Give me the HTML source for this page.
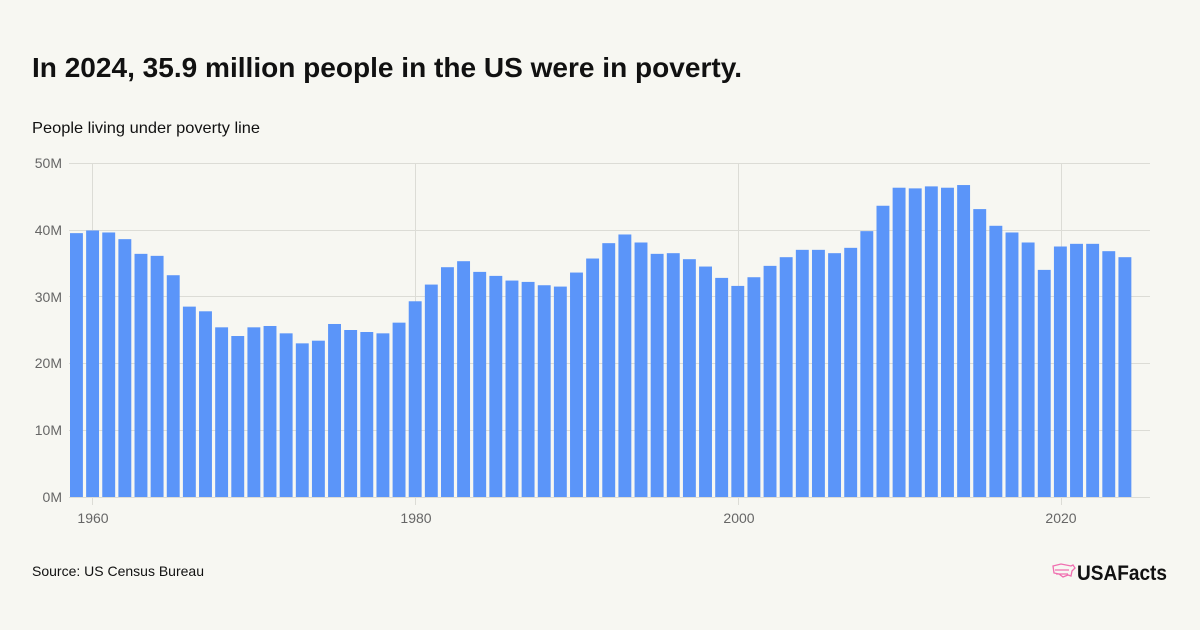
<!DOCTYPE html>
<html><head><meta charset="utf-8"><style>
body{margin:0;background:#f7f7f2;}
svg{display:block;font-family:"Liberation Sans",sans-serif;}
</style></head><body>
<svg width="1200" height="630" viewBox="0 0 1200 630">
<rect width="1200" height="630" fill="#f7f7f2"/>
<text x="32" y="77" font-size="28" fill="#111" font-weight="bold" textLength="710" lengthAdjust="spacingAndGlyphs">In 2024, 35.9 million people in the US were in poverty.</text>
<text x="32" y="133" font-size="16" fill="#111" textLength="228" lengthAdjust="spacingAndGlyphs">People living under poverty line</text>
<g stroke="#dcdcd6" stroke-width="1">
<line x1="69" x2="1150" y1="163.5" y2="163.5"/><line x1="69" x2="1150" y1="230.5" y2="230.5"/>
<line x1="69" x2="1150" y1="296.5" y2="296.5"/><line x1="69" x2="1150" y1="363.5" y2="363.5"/>
<line x1="69" x2="1150" y1="430.5" y2="430.5"/><line x1="69" x2="1150" y1="497.5" y2="497.5"/>
<line x1="92.5" x2="92.5" y1="163" y2="505"/><line x1="415.5" x2="415.5" y1="163" y2="505"/>
<line x1="738.5" x2="738.5" y1="163" y2="505"/><line x1="1061.5" x2="1061.5" y1="163" y2="505"/>
</g>
<g font-size="14" fill="#666" text-anchor="end">
<text x="62" y="168">50M</text><text x="62" y="235">40M</text><text x="62" y="302">30M</text>
<text x="62" y="368">20M</text><text x="62" y="435">10M</text><text x="62" y="502">0M</text>
</g>
<g font-size="14" fill="#666" text-anchor="middle">
<text x="93" y="523">1960</text><text x="416" y="523">1980</text><text x="739" y="523">2000</text><text x="1061" y="523">2020</text>
</g>
<g transform="translate(70,497) scale(16.13,-6.68)" fill="#5b95f9">
<rect x="0" y="0" width="0.8" height="39.5"/><rect x="1" y="0" width="0.8" height="39.9"/><rect x="2" y="0" width="0.8" height="39.6"/><rect x="3" y="0" width="0.8" height="38.6"/><rect x="4" y="0" width="0.8" height="36.4"/><rect x="5" y="0" width="0.8" height="36.1"/><rect x="6" y="0" width="0.8" height="33.2"/><rect x="7" y="0" width="0.8" height="28.5"/><rect x="8" y="0" width="0.8" height="27.8"/><rect x="9" y="0" width="0.8" height="25.4"/>
<rect x="10" y="0" width="0.8" height="24.1"/><rect x="11" y="0" width="0.8" height="25.4"/><rect x="12" y="0" width="0.8" height="25.6"/><rect x="13" y="0" width="0.8" height="24.5"/><rect x="14" y="0" width="0.8" height="23.0"/><rect x="15" y="0" width="0.8" height="23.4"/><rect x="16" y="0" width="0.8" height="25.9"/><rect x="17" y="0" width="0.8" height="25.0"/><rect x="18" y="0" width="0.8" height="24.7"/><rect x="19" y="0" width="0.8" height="24.5"/>
<rect x="20" y="0" width="0.8" height="26.1"/><rect x="21" y="0" width="0.8" height="29.3"/><rect x="22" y="0" width="0.8" height="31.8"/><rect x="23" y="0" width="0.8" height="34.4"/><rect x="24" y="0" width="0.8" height="35.3"/><rect x="25" y="0" width="0.8" height="33.7"/><rect x="26" y="0" width="0.8" height="33.1"/><rect x="27" y="0" width="0.8" height="32.4"/><rect x="28" y="0" width="0.8" height="32.2"/><rect x="29" y="0" width="0.8" height="31.7"/>
<rect x="30" y="0" width="0.8" height="31.5"/><rect x="31" y="0" width="0.8" height="33.6"/><rect x="32" y="0" width="0.8" height="35.7"/><rect x="33" y="0" width="0.8" height="38.0"/><rect x="34" y="0" width="0.8" height="39.3"/><rect x="35" y="0" width="0.8" height="38.1"/><rect x="36" y="0" width="0.8" height="36.4"/><rect x="37" y="0" width="0.8" height="36.5"/><rect x="38" y="0" width="0.8" height="35.6"/><rect x="39" y="0" width="0.8" height="34.5"/>
<rect x="40" y="0" width="0.8" height="32.8"/><rect x="41" y="0" width="0.8" height="31.6"/><rect x="42" y="0" width="0.8" height="32.9"/><rect x="43" y="0" width="0.8" height="34.6"/><rect x="44" y="0" width="0.8" height="35.9"/><rect x="45" y="0" width="0.8" height="37.0"/><rect x="46" y="0" width="0.8" height="37.0"/><rect x="47" y="0" width="0.8" height="36.5"/><rect x="48" y="0" width="0.8" height="37.3"/><rect x="49" y="0" width="0.8" height="39.8"/>
<rect x="50" y="0" width="0.8" height="43.6"/><rect x="51" y="0" width="0.8" height="46.3"/><rect x="52" y="0" width="0.8" height="46.2"/><rect x="53" y="0" width="0.8" height="46.5"/><rect x="54" y="0" width="0.8" height="46.3"/><rect x="55" y="0" width="0.8" height="46.7"/><rect x="56" y="0" width="0.8" height="43.1"/><rect x="57" y="0" width="0.8" height="40.6"/><rect x="58" y="0" width="0.8" height="39.6"/><rect x="59" y="0" width="0.8" height="38.1"/>
<rect x="60" y="0" width="0.8" height="34.0"/><rect x="61" y="0" width="0.8" height="37.5"/><rect x="62" y="0" width="0.8" height="37.9"/><rect x="63" y="0" width="0.8" height="37.9"/><rect x="64" y="0" width="0.8" height="36.8"/><rect x="65" y="0" width="0.8" height="35.9"/>
</g>
<text x="32" y="576" font-size="14" fill="#111">Source: US Census Bureau</text>
<path d="M1053 566 l8 -2 l10 2 l2 -1 l2 3 l-3 3 l-1 5 l-3 -1 l-5 2 l-4 -3 l-5 -1 z M1055 570 h14 M1056 574 h12" fill="none" stroke="#f06fb0" stroke-width="1.3"/>
<text x="1077" y="580" font-size="21" fill="#111" font-weight="bold" textLength="90" lengthAdjust="spacingAndGlyphs">USAFacts</text>
</svg>
</body></html>
